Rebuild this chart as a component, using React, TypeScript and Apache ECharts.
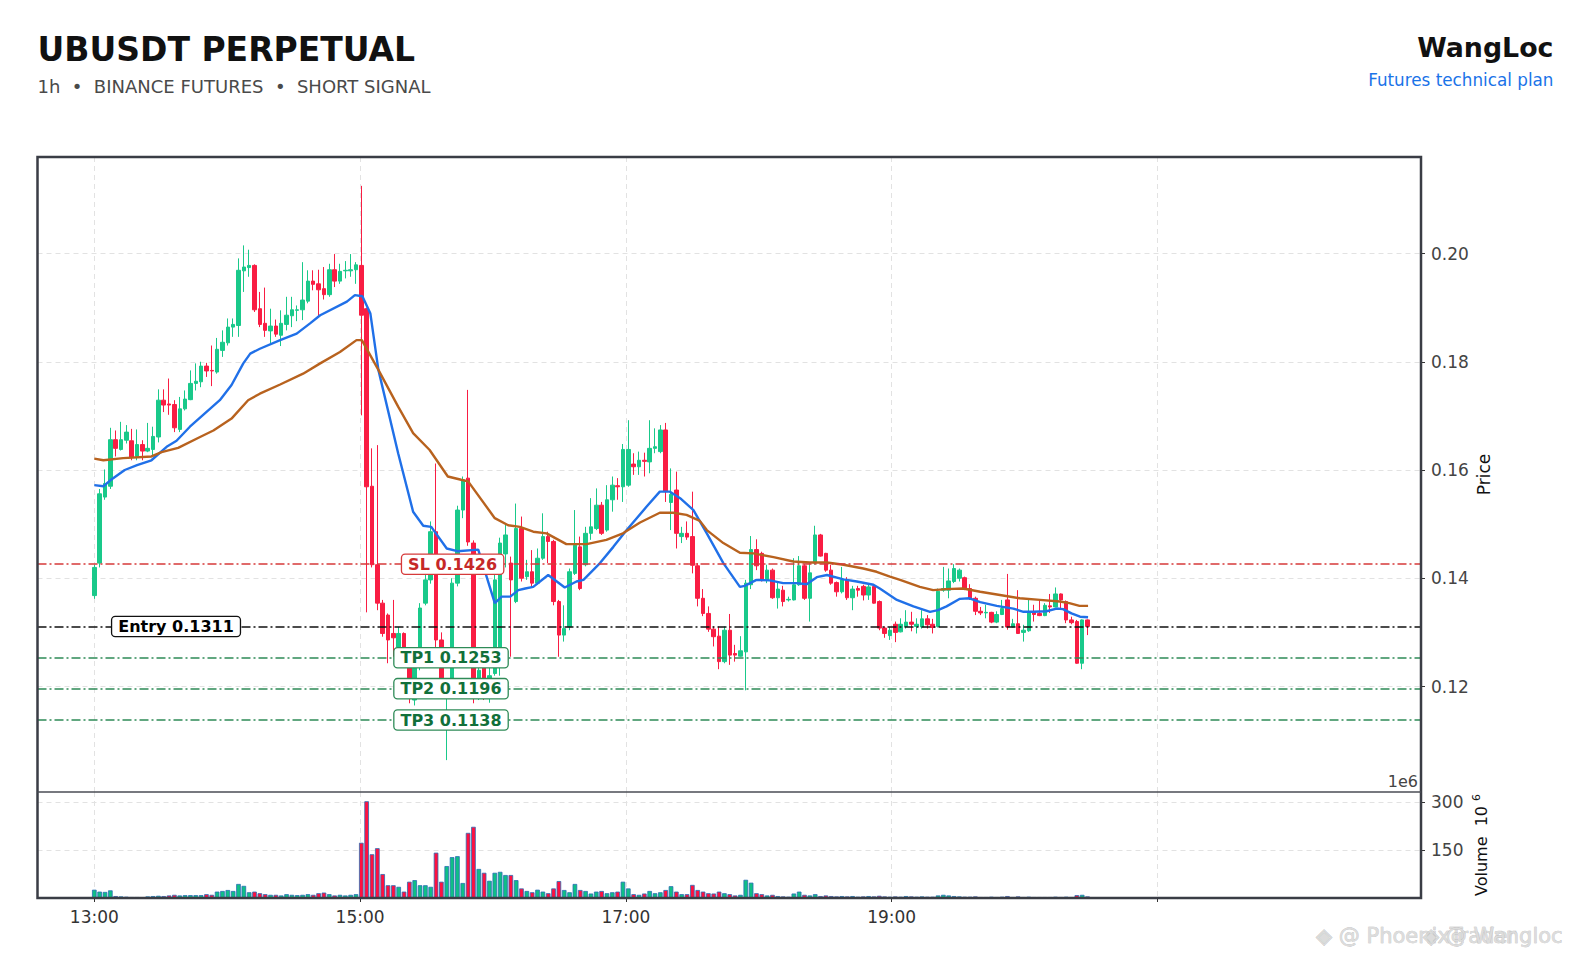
import React, { useEffect, useRef } from "react";
import * as echarts from "echarts";

// ---------- DATA ----------
// candle rows: [open, high, low, close], one per 2.5-min bar starting 13:00
const ohlc: number[][] = [
  [0.1368, 0.1425, 0.1362, 0.142], [0.1428, 0.1565, 0.142, 0.1556], [0.155, 0.1601, 0.1545, 0.1575], [0.157, 0.1678, 0.1565, 0.1656],
  [0.1656, 0.1673, 0.1625, 0.164], [0.1638, 0.1689, 0.1636, 0.1656], [0.1655, 0.1683, 0.1649, 0.167], [0.1654, 0.1676, 0.1618, 0.1624],
  [0.1625, 0.1675, 0.1618, 0.1647], [0.1647, 0.1655, 0.1618, 0.1635], [0.1635, 0.1687, 0.1633, 0.164], [0.1638, 0.168, 0.1624, 0.1662],
  [0.1661, 0.1749, 0.1651, 0.1729], [0.1729, 0.1749, 0.1707, 0.172], [0.1722, 0.1769, 0.1702, 0.172], [0.1721, 0.1729, 0.167, 0.1678],
  [0.1675, 0.1735, 0.167, 0.1713], [0.1713, 0.1747, 0.171, 0.1731], [0.173, 0.1784, 0.1729, 0.176], [0.176, 0.1797, 0.1747, 0.1764],
  [0.1763, 0.18, 0.1753, 0.1792], [0.1792, 0.1798, 0.1772, 0.1783], [0.1784, 0.183, 0.1755, 0.1783], [0.1781, 0.1844, 0.1778, 0.1823],
  [0.1821, 0.1858, 0.1809, 0.1836], [0.1835, 0.188, 0.183, 0.1864], [0.1864, 0.188, 0.1846, 0.1869], [0.1867, 0.1991, 0.1846, 0.1969],
  [0.1968, 0.2015, 0.1929, 0.1975], [0.1974, 0.2007, 0.1957, 0.1978], [0.1978, 0.198, 0.1892, 0.1896], [0.1898, 0.1929, 0.1864, 0.1869],
  [0.1871, 0.1937, 0.1846, 0.1858], [0.1857, 0.1898, 0.1834, 0.1866], [0.1866, 0.1878, 0.1846, 0.1851], [0.1849, 0.1895, 0.1829, 0.1871],
  [0.1869, 0.192, 0.1858, 0.1886], [0.1885, 0.192, 0.1864, 0.1896], [0.1895, 0.1904, 0.1875, 0.1896], [0.1896, 0.1984, 0.1877, 0.1914],
  [0.1912, 0.1969, 0.1908, 0.1949], [0.1949, 0.1969, 0.1932, 0.1943], [0.1944, 0.197, 0.1883, 0.1933], [0.1935, 0.1975, 0.1915, 0.1924],
  [0.1924, 0.1981, 0.192, 0.197], [0.197, 0.1999, 0.1938, 0.1949], [0.1949, 0.1981, 0.1944, 0.1967], [0.1968, 0.1986, 0.1954, 0.1969],
  [0.1968, 0.1999, 0.1957, 0.197], [0.197, 0.1984, 0.1944, 0.1979], [0.1978, 0.2125, 0.1701, 0.1886], [0.1898, 0.19, 0.1337, 0.1569],
  [0.157, 0.164, 0.142, 0.1425], [0.1425, 0.1646, 0.1341, 0.1354], [0.1354, 0.136, 0.1292, 0.1298], [0.1332, 0.1335, 0.1243, 0.1286],
  [0.1298, 0.136, 0.1255, 0.129], [0.1273, 0.131, 0.1255, 0.1298], [0.1298, 0.13, 0.1243, 0.1255], [0.1255, 0.1265, 0.1169, 0.1185],
  [0.1175, 0.124, 0.1165, 0.1234], [0.1237, 0.1354, 0.123, 0.1345], [0.1354, 0.142, 0.135, 0.1397], [0.1397, 0.1505, 0.139, 0.1486],
  [0.1486, 0.1612, 0.1273, 0.1286], [0.1286, 0.13, 0.12, 0.1212], [0.118, 0.1205, 0.1064, 0.12], [0.12, 0.14, 0.119, 0.1391],
  [0.1391, 0.1534, 0.1385, 0.1526], [0.1526, 0.1588, 0.1511, 0.1582], [0.1585, 0.1748, 0.146, 0.1467], [0.1465, 0.147, 0.1169, 0.118],
  [0.119, 0.126, 0.1175, 0.123], [0.1235, 0.1255, 0.1175, 0.119], [0.118, 0.124, 0.117, 0.122], [0.1224, 0.141, 0.122, 0.1397],
  [0.124, 0.1475, 0.122, 0.1465], [0.1445, 0.15, 0.142, 0.148], [0.1428, 0.144, 0.1255, 0.1397], [0.1357, 0.1538, 0.1354, 0.1492],
  [0.1492, 0.1514, 0.1394, 0.14], [0.1403, 0.1434, 0.1397, 0.1412], [0.1412, 0.1452, 0.1384, 0.1391], [0.1391, 0.1455, 0.1388, 0.1437],
  [0.1437, 0.152, 0.1434, 0.1477], [0.1477, 0.1486, 0.1428, 0.1468], [0.1468, 0.1471, 0.135, 0.1357], [0.1357, 0.136, 0.1255, 0.1295],
  [0.1295, 0.135, 0.1283, 0.1307], [0.131, 0.1418, 0.1304, 0.1412], [0.1409, 0.1526, 0.1406, 0.1461], [0.1458, 0.1477, 0.1378, 0.1381],
  [0.1425, 0.1495, 0.1422, 0.1483], [0.1483, 0.1548, 0.1471, 0.1495], [0.1492, 0.1566, 0.1489, 0.1535], [0.1535, 0.1541, 0.148, 0.1483],
  [0.1489, 0.1572, 0.1486, 0.1545], [0.1545, 0.1588, 0.1523, 0.1572], [0.1571, 0.1585, 0.1545, 0.1569], [0.1569, 0.1648, 0.1541, 0.1638],
  [0.1572, 0.1692, 0.1569, 0.1638], [0.1611, 0.1631, 0.1591, 0.1606], [0.1606, 0.1634, 0.1591, 0.1618], [0.1618, 0.1632, 0.1588, 0.1616],
  [0.1615, 0.1692, 0.1594, 0.164], [0.164, 0.1677, 0.1631, 0.1643], [0.1634, 0.1683, 0.1631, 0.1674], [0.1674, 0.1687, 0.1541, 0.156],
  [0.154, 0.1603, 0.1489, 0.1555], [0.1563, 0.1597, 0.1455, 0.1483], [0.1477, 0.1495, 0.1465, 0.1483], [0.1483, 0.1505, 0.1471, 0.1476],
  [0.1477, 0.156, 0.1409, 0.1424], [0.1423, 0.1428, 0.1348, 0.1363], [0.1363, 0.138, 0.133, 0.1335], [0.1335, 0.1348, 0.1301, 0.1306],
  [0.1306, 0.1311, 0.1274, 0.1292], [0.1293, 0.1311, 0.1232, 0.1246], [0.1246, 0.1311, 0.1243, 0.1304], [0.1304, 0.1334, 0.124, 0.1258],
  [0.1261, 0.1277, 0.1246, 0.1258], [0.1256, 0.1293, 0.1255, 0.1266], [0.1264, 0.1397, 0.1193, 0.1391], [0.1388, 0.1478, 0.138, 0.1453],
  [0.1453, 0.1472, 0.1415, 0.1423], [0.1446, 0.1449, 0.1394, 0.1397], [0.1397, 0.1425, 0.1391, 0.1415], [0.1415, 0.1418, 0.1362, 0.1364],
  [0.1364, 0.1392, 0.1344, 0.138], [0.1378, 0.1386, 0.1348, 0.1357], [0.136, 0.1366, 0.1357, 0.1361], [0.136, 0.1437, 0.1359, 0.1388],
  [0.1388, 0.1441, 0.1386, 0.1423], [0.1423, 0.1426, 0.136, 0.1363], [0.1363, 0.1428, 0.132, 0.141], [0.1428, 0.1497, 0.1425, 0.148],
  [0.148, 0.1482, 0.144, 0.1441], [0.1446, 0.1447, 0.1412, 0.1415], [0.1415, 0.1425, 0.1388, 0.1391], [0.1392, 0.1394, 0.1366, 0.1375],
  [0.1375, 0.1421, 0.1372, 0.1397], [0.1397, 0.1402, 0.136, 0.1364], [0.1364, 0.1386, 0.1341, 0.138], [0.1381, 0.1386, 0.1366, 0.1378],
  [0.1385, 0.1388, 0.1359, 0.1369], [0.1369, 0.1388, 0.136, 0.1384], [0.1385, 0.1386, 0.1353, 0.1354], [0.1357, 0.1359, 0.1304, 0.1308],
  [0.1308, 0.1311, 0.129, 0.1298], [0.1294, 0.131, 0.1286, 0.1304], [0.1315, 0.132, 0.1282, 0.13], [0.1301, 0.1326, 0.13, 0.1315],
  [0.1311, 0.1341, 0.1307, 0.1319], [0.1319, 0.1338, 0.1302, 0.1315], [0.1311, 0.1326, 0.1298, 0.1315], [0.131, 0.1341, 0.1307, 0.1325],
  [0.1325, 0.1332, 0.1307, 0.1314], [0.1315, 0.1325, 0.1298, 0.1309], [0.1311, 0.1381, 0.1309, 0.1376], [0.1378, 0.1421, 0.1375, 0.1381],
  [0.1378, 0.1418, 0.1363, 0.1395], [0.1394, 0.1426, 0.1391, 0.1418], [0.14, 0.1418, 0.1394, 0.1415], [0.1401, 0.1403, 0.1378, 0.1381],
  [0.1381, 0.1389, 0.136, 0.1363], [0.1363, 0.1366, 0.1332, 0.1339], [0.1339, 0.1347, 0.1332, 0.1336], [0.1336, 0.1351, 0.1326, 0.1337],
  [0.1337, 0.1338, 0.1317, 0.1319], [0.1319, 0.1339, 0.1317, 0.1333], [0.1333, 0.136, 0.1332, 0.1344], [0.136, 0.1408, 0.1305, 0.131],
  [0.131, 0.1325, 0.1309, 0.1316], [0.1316, 0.1378, 0.1297, 0.1298], [0.13, 0.1314, 0.1283, 0.1304], [0.1303, 0.1363, 0.1301, 0.1338],
  [0.1337, 0.1351, 0.132, 0.1333], [0.1335, 0.136, 0.133, 0.1331], [0.1331, 0.1354, 0.133, 0.135], [0.1349, 0.1371, 0.1336, 0.1347],
  [0.1347, 0.1383, 0.1346, 0.1371], [0.1371, 0.1372, 0.1344, 0.136], [0.1357, 0.1359, 0.1317, 0.1323], [0.1323, 0.1329, 0.1315, 0.1318],
  [0.132, 0.1323, 0.1242, 0.1243], [0.1243, 0.1324, 0.1232, 0.1323], [0.1323, 0.1324, 0.1295, 0.1311],
];

// volume per bar, in millions (axis shows x1e6)
const volumes: number[] = [
  26, 20, 19, 24, 6, 5, 4, 3, 3, 2,
  5, 6, 7, 6, 8, 10, 8, 9, 9, 9,
  9, 12, 10, 20, 22, 25, 22, 44, 38, 18,
  20, 15, 12, 10, 10, 8, 12, 10, 9, 10,
  12, 10, 15, 17, 12, 8, 10, 8, 10, 12,
  173, 303, 137, 156, 75, 40, 40, 35, 20, 51,
  56, 40, 40, 35, 142, 51, 100, 128, 131, 47,
  204, 223, 91, 79, 54, 79, 82, 72, 72, 56,
  30, 22, 18, 26, 20, 15, 30, 53, 25, 18,
  44, 25, 22, 14, 20, 22, 15, 18, 20, 51,
  30, 12, 10, 14, 22, 15, 18, 25, 37, 20,
  12, 12, 41, 25, 20, 15, 14, 20, 15, 12,
  8, 10, 57, 48, 15, 12, 8, 10, 6, 5,
  4, 14, 20, 10, 8, 12, 6, 8, 6, 5,
  6, 5, 6, 4, 5, 6, 5, 7, 5, 4,
  5, 4, 6, 5, 4, 5, 4, 4, 8, 10,
  8, 6, 5, 4, 4, 5, 3, 3, 4, 3,
  4, 6, 3, 5, 3, 4, 3, 3, 3, 3,
  4, 3, 4, 3, 9, 10, 5,
];

// fast moving average (blue): [bar index, price]
const fastMA: number[][] = [
  [0, 0.1572], [1.7, 0.157], [3, 0.1581], [5.7, 0.16], [8, 0.1609], [10.7, 0.1618], [13.7, 0.1644], [15.4, 0.1654],
  [17.9, 0.168], [23.5, 0.1729], [25.7, 0.1757], [27.9, 0.1797], [29.2, 0.1815], [31, 0.1824], [34.8, 0.184],
  [37.9, 0.1852], [40.4, 0.1871], [42.3, 0.1886], [47.3, 0.1911], [48.8, 0.1923], [50.2, 0.1921], [51.7, 0.1889],
  [53.2, 0.1785], [56.9, 0.1631], [59.7, 0.1523], [61.6, 0.1497], [63.1, 0.1495], [66, 0.1455], [68, 0.145],
  [71.9, 0.1453], [75, 0.1354], [76.3, 0.1366], [77.9, 0.1366], [79.4, 0.1378], [80.7, 0.1381], [82.2, 0.1384],
  [85, 0.1406], [88.1, 0.1383], [90.3, 0.1394], [91.6, 0.1397], [94.7, 0.1428], [97.2, 0.1458], [99.7, 0.1489],
  [103.4, 0.1532], [105.9, 0.156], [107.8, 0.156], [109.7, 0.1548], [112.2, 0.1526], [114.7, 0.1483], [117.8, 0.1428],
  [120.9, 0.1384], [121.8, 0.1386], [124, 0.1397], [126.5, 0.1396], [129, 0.1391], [131.5, 0.1391], [133.4, 0.1389],
  [135.3, 0.1402], [137.2, 0.1406], [140.3, 0.1398], [142.8, 0.1394], [145.9, 0.1388], [147.1, 0.1381], [150.3, 0.136],
  [153.4, 0.1348], [156.5, 0.1338], [158, 0.1341], [159.6, 0.1348], [162.1, 0.1362], [163.9, 0.1363], [165.9, 0.1356],
  [169, 0.1349], [172.1, 0.1344], [174, 0.1338], [175.8, 0.1338], [178.3, 0.1339], [180.2, 0.1344], [181.4, 0.1343],
  [183, 0.1335], [184.6, 0.1329], [186.1, 0.1328],
];

// slow moving average (brown): [bar index, price]
const slowMA: number[][] = [
  [0, 0.1621], [1.7, 0.1618], [5.4, 0.1622], [10.7, 0.1625], [12.6, 0.1633], [15.7, 0.1641], [19.8, 0.1661],
  [22.3, 0.1673], [25.7, 0.1695], [28.8, 0.1729], [31, 0.1741], [34.8, 0.1758], [39.1, 0.1778], [42.3, 0.1797],
  [46, 0.1818], [49.1, 0.184], [50.1, 0.184], [53.2, 0.1785], [56.9, 0.1717], [59.7, 0.1668], [62.8, 0.1637],
  [66.2, 0.1588], [68.7, 0.1582], [70, 0.1579], [75, 0.1511], [77.5, 0.1498], [79.7, 0.1495], [82.2, 0.1486],
  [84.7, 0.1483], [88.4, 0.1463], [92.2, 0.1463], [95.9, 0.1471], [99, 0.1483], [102.2, 0.1503], [105.9, 0.1521],
  [108.4, 0.1521], [110.9, 0.1517], [113.4, 0.1506], [114.7, 0.1489], [117.8, 0.1465], [120.9, 0.1447],
  [123.4, 0.1446], [127.2, 0.1439], [130.9, 0.1431], [134, 0.1429], [137.2, 0.1429], [140.3, 0.1425], [144, 0.1418],
  [146.5, 0.1412], [149, 0.1403], [150.9, 0.1397], [154.6, 0.1384], [157.1, 0.1378], [159.6, 0.138], [162.7, 0.1381],
  [165.9, 0.1375], [169.6, 0.1369], [173.3, 0.1363], [177.1, 0.136], [180.8, 0.1357], [182.6, 0.1354], [184.5, 0.1349],
  [186.1, 0.1349],
];

const timeTickPositions: number[] = [0, 49.77, 99.55, 149.32, 199.1];
const timeTickLabels: string[] = ["13:00", "15:00", "17:00", "19:00", ""];
const priceTicks: number[] = [0.12, 0.14, 0.16, 0.18, 0.2];
const volumeTicks: number[] = [150, 300];

const levelNames: string[] = ["SL", "Entry", "TP1", "TP2", "TP3"];
const levelValues: number[] = [0.1426, 0.1311, 0.1253, 0.1196, 0.1138];

// ---------- LAYOUT / STYLE ----------
const W = 1590;
const H = 962;
const PLOT_L = 37.5;
const PLOT_R = 1421;
const PLOT_T = 157;
const SPLIT_Y = 792;
const PLOT_B = 898;
const X_MIN = -10.64;
const X_MAX = 248.45;
const Y_MIN = 0.10051;
const Y_MAX = 0.21783;
const VOL_MAX = 332;
const FONT = "DejaVu Sans";
const UP = "#19c98a";
const DOWN = "#f91d43";
const VOL_UP = "#0fbf86";
const VOL_DOWN = "#ff1040";
const LEVEL_COLORS = ["#d63a3a", "#111111", "#2e8b57", "#2e8b57", "#2e8b57"];
const LEVEL_TEXT = ["#c62828", "#000000", "#12703a", "#12703a", "#12703a"];
const LEVEL_LABEL_X = [67.1, 15.3, 66.8, 66.8, 66.8];
const GRID_LINE = { color: "#e2e2e2", type: [5, 4] as number[], width: 1 };

function buildOption() {
  const candleData = ohlc.map((r, i) => [i, r[0], r[3], r[2], r[1]]);
  const volData = volumes.map((v, i) => ({
    value: [i, v],
    itemStyle: { color: ohlc[i][3] >= ohlc[i][0] ? VOL_UP : VOL_DOWN },
  }));
  const timeLabel = (v: number) => {
    let best = 0;
    timeTickPositions.forEach((p, i) => {
      if (Math.abs(p - v) < Math.abs(timeTickPositions[best] - v)) best = i;
    });
    return timeTickLabels[best];
  };
  const dashDot = [9, 3, 2, 3];

  return {
    animation: false,
    backgroundColor: "#ffffff",
    textStyle: { fontFamily: FONT },
    grid: [
      { left: PLOT_L, top: PLOT_T, width: PLOT_R - PLOT_L, height: SPLIT_Y - PLOT_T, show: false },
      { left: PLOT_L, top: SPLIT_Y, width: PLOT_R - PLOT_L, height: PLOT_B - SPLIT_Y, show: false },
    ],
    xAxis: [
      {
        type: "value", gridIndex: 0, min: X_MIN, max: X_MAX,
        axisLine: { show: false, onZero: false },
        axisTick: { show: false, customValues: timeTickPositions },
        axisLabel: { show: false, customValues: timeTickPositions },
        splitLine: { show: true, lineStyle: GRID_LINE },
      },
      {
        type: "value", gridIndex: 1, min: X_MIN, max: X_MAX,
        axisLine: { show: false, onZero: false },
        axisTick: { show: true, length: 4, customValues: timeTickPositions, lineStyle: { color: "#333", width: 1 } },
        axisLabel: {
          show: true, customValues: timeTickPositions, formatter: timeLabel,
          fontSize: 17, color: "#333", margin: 10, fontFamily: FONT,
        },
        splitLine: { show: true, lineStyle: GRID_LINE },
      },
    ],
    yAxis: [
      {
        type: "value", gridIndex: 0, position: "right", min: Y_MIN, max: Y_MAX,
        axisLine: { show: false, onZero: false },
        axisTick: { show: true, length: 4, customValues: priceTicks, lineStyle: { color: "#333" } },
        axisLabel: {
          customValues: priceTicks, formatter: (v: number) => v.toFixed(2),
          fontSize: 17, color: "#444", margin: 10, fontFamily: FONT,
        },
        splitLine: { show: true, lineStyle: GRID_LINE },
      },
      {
        type: "value", gridIndex: 1, position: "right", min: 0, max: VOL_MAX,
        axisLine: { show: false, onZero: false },
        axisTick: { show: true, length: 4, customValues: volumeTicks, lineStyle: { color: "#333" } },
        axisLabel: {
          customValues: volumeTicks, formatter: (v: number) => String(v),
          fontSize: 17, color: "#444", margin: 10, fontFamily: FONT,
        },
        splitLine: { show: true, lineStyle: GRID_LINE },
      },
    ],
    series: [
      {
        name: "Price", type: "candlestick", xAxisIndex: 0, yAxisIndex: 0,
        data: candleData, barWidth: 4,
        itemStyle: { color: UP, color0: DOWN, borderColor: UP, borderColor0: DOWN, borderWidth: 1 },
      },
      {
        name: "Volume", type: "bar", xAxisIndex: 1, yAxisIndex: 1,
        data: volData, barWidth: 4.6,
        itemStyle: { borderColor: "#2a6db5", borderWidth: 0.8 },
      },
      {
        name: "Fast MA", type: "line", xAxisIndex: 0, yAxisIndex: 0, data: fastMA,
        showSymbol: false, symbol: "none", lineStyle: { color: "#2070e8", width: 2.4 }, z: 3,
      },
      {
        name: "Slow MA", type: "line", xAxisIndex: 0, yAxisIndex: 0, data: slowMA,
        showSymbol: false, symbol: "none", lineStyle: { color: "#b8621e", width: 2.4 }, z: 3,
      },
      {
        name: "Levels", type: "line", xAxisIndex: 0, yAxisIndex: 0, data: [], z: 10,
        markLine: {
          silent: true, symbol: "none", label: { show: false }, precision: 6,
          data: levelValues.map((v, i) => ({
            yAxis: v,
            lineStyle: { color: LEVEL_COLORS[i], width: 1.5, type: dashDot },
          })),
        },
        markPoint: {
          symbol: "rect", symbolSize: 1, itemStyle: { color: "rgba(0,0,0,0)" },
          data: levelValues.map((v, i) => ({
            coord: [LEVEL_LABEL_X[i], v],
            label: {
              show: true, position: "inside",
              formatter: levelNames[i] + " " + v.toFixed(4),
              fontFamily: FONT, fontWeight: "bold", fontSize: 16,
              color: LEVEL_TEXT[i], backgroundColor: "#ffffff",
              borderColor: LEVEL_COLORS[i], borderWidth: 1.3, borderRadius: 3,
              padding: [2, 6, 1, 6],
            },
          })),
        },
      },
    ],
    graphic: [
      { type: "rect", silent: true, z: 100, shape: { x: PLOT_L, y: PLOT_T, width: PLOT_R - PLOT_L, height: PLOT_B - PLOT_T }, style: { fill: "none", stroke: "#3a3d45", lineWidth: 2.5 } },
      { type: "line", silent: true, z: 100, shape: { x1: PLOT_L, y1: SPLIT_Y, x2: PLOT_R, y2: SPLIT_Y }, style: { stroke: "#4a4d55", lineWidth: 1.5 } },
      { type: "text", x: 37.5, y: 49, style: { text: "UBUSDT PERPETUAL", font: `bold 33px "${FONT}"`, fill: "#111", verticalAlign: "middle", align: "left" } },
      { type: "text", x: 37.5, y: 86, style: { text: "1h\u00a0\u00a0•\u00a0\u00a0BINANCE FUTURES\u00a0\u00a0•\u00a0\u00a0SHORT SIGNAL", font: `18px "${FONT}"`, fill: "#4a4a4a", verticalAlign: "middle", align: "left" } },
      { type: "text", x: 1553.5, y: 47, style: { text: "WangLoc", font: `bold 26.8px "${FONT}"`, fill: "#111", verticalAlign: "middle", align: "right" } },
      { type: "text", x: 1553.5, y: 80, style: { text: "Futures technical plan", font: `16.8px "${FONT}"`, fill: "#1a73e8", verticalAlign: "middle", align: "right" } },
      { type: "text", x: 1483.5, y: 474.5, rotation: Math.PI / 2, style: { text: "Price", font: `17px "${FONT}"`, fill: "#111", verticalAlign: "middle", align: "center" } },
      { type: "text", x: 1481, y: 896, rotation: Math.PI / 2, style: { text: "Volume\u00a0\u00a010", font: `16px "${FONT}"`, fill: "#111", verticalAlign: "middle", align: "left" } },
      { type: "text", x: 1476.5, y: 801, rotation: Math.PI / 2, style: { text: "6", font: `11px "${FONT}"`, fill: "#111", verticalAlign: "middle", align: "left" } },
      { type: "text", x: 1418, y: 781.5, style: { text: "1e6", font: `16px "${FONT}"`, fill: "#444", verticalAlign: "middle", align: "right" } },
      { type: "text", x: 1316, y: 936, style: { text: "◈ @ PhoenixTrader", font: `21px "${FONT}"`, fill: "#dcdcdc", stroke: "#b5b5b5", lineWidth: 0.5, verticalAlign: "middle", align: "left" } },
      { type: "text", x: 1423, y: 936, style: { text: "◈ @ Wangloc", font: `21px "${FONT}"`, fill: "#dcdcdc", stroke: "#b5b5b5", lineWidth: 0.5, verticalAlign: "middle", align: "left" } },
    ],
  };
}

export default function App() {
  const ref = useRef<HTMLDivElement>(null);
  useEffect(() => {
    document.body.style.margin = "0";
    if (!ref.current) return;
    const chart = echarts.init(ref.current, null, { renderer: "svg" });
    chart.setOption(buildOption() as any);
    return () => chart.dispose();
  }, []);
  return <div ref={ref} style={{ width: W, height: H, background: "#fff" }} />;
}
